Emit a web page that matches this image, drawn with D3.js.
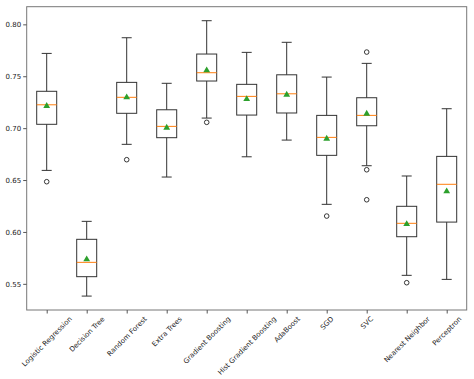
<!DOCTYPE html>
<html><head><meta charset="utf-8">
<script src="https://cdn.jsdelivr.net/npm/d3@7"></script>
<style>body{margin:0;background:#fff}svg{display:block}text{font-family:"DejaVu Sans",sans-serif}</style>
</head><body><svg id="c" width="474" height="379"></svg>
<script>
const categories = ["Logistic Regression","Decision Tree","Random Forest","Extra Trees","Gradient Boosting","Hist Gradient Boosting","AdaBoost","SGD","SVC","Nearest Neighbor","Perceptron"];
const whiskerLow  = [0.6593,0.5382,0.6844,0.6529,0.7097,0.6724,0.6885,0.6266,0.6638,0.5582,0.5543];
const q1          = [0.7037,0.5569,0.7143,0.6908,0.7454,0.7126,0.7146,0.6738,0.7023,0.5954,0.6095];
const medians     = [0.7225,0.5707,0.7297,0.7017,0.7534,0.7306,0.7331,0.6911,0.7123,0.6083,0.6459];
const q3          = [0.7355,0.5929,0.7441,0.7177,0.7714,0.7422,0.7514,0.7123,0.7293,0.6247,0.6728];
const whiskerHigh = [0.7720,0.6102,0.7871,0.7432,0.8035,0.7730,0.7827,0.7492,0.7624,0.6539,0.7187];
const means       = [0.7213,0.5736,0.7297,0.7004,0.7557,0.7280,0.7322,0.6898,0.7139,0.6076,0.6391];
const outliers    = [[0.6484],[],[0.6696],[],[0.7056],[],[],[0.6153],[0.7733,0.6599,0.6310],[0.5511],[]];
const yTicks = [0.55,0.60,0.65,0.70,0.75,0.80];

const svg = d3.select("#c");
const L = 26.7, R = 466.7, T = 6.7, B = 310;
const x = d3.scaleLinear().domain([0.5, 11.5]).range([L, R]);
const y = d3.scaleLinear().domain([0.5248, 0.8170]).range([B, T]);
const bw = (x(1.5) - x(1)) * 2 * 0.5 / 1; // 0.5 of spacing
const boxW = x(1.25) - x(0.75);
const capW = boxW / 2;

const g = svg.append("g");
categories.forEach((c, i) => {
  const cx = x(i + 1);
  const grp = g.append("g");
  const st = "#333";
  grp.append("line").attr("x1", cx).attr("x2", cx).attr("y1", y(q3[i])).attr("y2", y(whiskerHigh[i])).attr("stroke", st).attr("stroke-width", 1);
  grp.append("line").attr("x1", cx).attr("x2", cx).attr("y1", y(q1[i])).attr("y2", y(whiskerLow[i])).attr("stroke", st).attr("stroke-width", 1);
  grp.append("line").attr("x1", cx - capW/2).attr("x2", cx + capW/2).attr("y1", y(whiskerHigh[i])).attr("y2", y(whiskerHigh[i])).attr("stroke", st).attr("stroke-width", 1);
  grp.append("line").attr("x1", cx - capW/2).attr("x2", cx + capW/2).attr("y1", y(whiskerLow[i])).attr("y2", y(whiskerLow[i])).attr("stroke", st).attr("stroke-width", 1);
  grp.append("rect").attr("x", cx - boxW/2).attr("width", boxW).attr("y", y(q3[i])).attr("height", y(q1[i]) - y(q3[i])).attr("fill", "none").attr("stroke", st).attr("stroke-width", 1);
  grp.append("line").attr("x1", cx - boxW/2).attr("x2", cx + boxW/2).attr("y1", y(medians[i])).attr("y2", y(medians[i])).attr("stroke", "#ff7f0e").attr("stroke-width", 1);
  grp.append("path").attr("d", d3.symbol(d3.symbolTriangle, 20)()).attr("transform", `translate(${cx},${y(means[i])})`).attr("fill", "#2ca02c");
  outliers[i].forEach(v => {
    grp.append("circle").attr("cx", cx).attr("cy", y(v)).attr("r", 2.3).attr("fill", "none").attr("stroke", "#222").attr("stroke-width", 0.9);
  });
});

// frame
svg.append("rect").attr("x", L).attr("y", T).attr("width", R - L).attr("height", B - T).attr("fill", "none").attr("stroke", "#777").attr("stroke-width", 1);

// y axis
const yAxis = svg.append("g").attr("transform", `translate(${L},0)`).call(d3.axisLeft(y).tickValues(yTicks).tickFormat(d3.format(".2f")).tickSize(3.5).tickPadding(2));
yAxis.select(".domain").remove();
yAxis.selectAll("line").attr("stroke", "#555");
yAxis.selectAll("text").attr("font-size", 7).attr("fill", "#222").attr("font-family", "DejaVu Sans");

// x axis
const xAxis = svg.append("g").attr("transform", `translate(0,${B})`).call(d3.axisBottom(x).tickValues(d3.range(1, 12)).tickFormat(d => categories[d-1]).tickSize(3.5));
xAxis.select(".domain").remove();
xAxis.selectAll("line").attr("stroke", "#555");
xAxis.selectAll("text").each(function() {
  const t = d3.select(this);
  t.attr("font-size", 7).attr("fill", "#222").attr("font-family", "DejaVu Sans").attr("dy", null).attr("y", 0);
  const len = this.getComputedTextLength();
  const h = 7;
  const half = (len + h) / Math.SQRT2 / 2;
  t.attr("text-anchor", "middle").attr("dominant-baseline", "central")
   .attr("transform", `translate(0,${5.5 + half}) rotate(-45)`);
});
</script></body></html>
